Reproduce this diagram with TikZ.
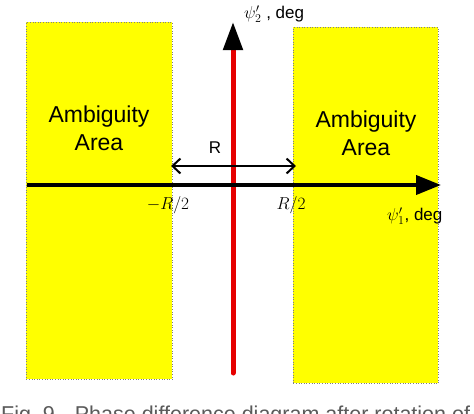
\documentclass[tikz,border=0pt]{standalone}
\usepackage{fontspec}
\setmainfont{Liberation Sans}
\usetikzlibrary{arrows.meta, positioning}
\definecolor{ambyellow}{RGB}{255, 255, 0}
\definecolor{axisred}{RGB}{230, 0, 0}
\definecolor{captiongray}{RGB}{90, 90, 90}
\tikzstyle{area} = [rectangle, draw=gray, dotted, fill=ambyellow, line width=0.6pt, inner sep=0pt, anchor=north west]
\tikzstyle{areatext} = [align=center, font=\fontsize{23}{28}\selectfont]
\tikzstyle{axis} = [-{Triangle[length=25pt, width=19pt]}, line width=4pt]
\tikzstyle{lbl} = [font=\fontsize{17}{20}\selectfont, inner sep=1pt]
\tikzstyle{mlbl} = [font=\fontsize{19}{22}\selectfont, inner sep=1pt]

\begin{document}
\begin{tikzpicture}[x=1pt, y=-1pt]
    \useasboundingbox (0, 0) rectangle (474, 413);

    % Ambiguity areas
    \node[area, minimum width=146pt, minimum height=357pt] (leftarea) at (26, 22) {};
    \node[area, minimum width=145pt, minimum height=356pt] (rightarea) at (293, 27) {};
    \node[areatext] (lefttext) at (99, 128) {Ambiguity\\Area};
    \node[areatext] (righttext) at (366, 133) {Ambiguity\\Area};

    % Vertical axis
    \coordinate (vbot) at (233, 373);
    \coordinate (vtop) at (233, 22);
    \draw[-{Triangle[length=28pt, width=19pt, color=black]}, axisred, line width=5pt, line cap=round] (vbot) -- (vtop);
    \node[lbl, anchor=west] (psitwo) at (243, 14) {$\psi'_2$ , deg};

    % Horizontal axis
    \coordinate (hleft) at (27, 185);
    \coordinate (hright) at (441, 185);
    \draw[axis] (hleft) -- (hright);
    \node[lbl, anchor=west] (psione) at (386, 216) {$\psi'_1$, deg};

    % Range R
    \coordinate (rleft) at (171, 166);
    \coordinate (rright) at (296, 166);
    \draw[{Straight Barb[length=8pt, width=15pt]}-{Straight Barb[length=8pt, width=15pt]}, line width=2pt] (rleft) -- (rright);
    \node[lbl] (rlabel) at (215, 148) {R};
    \node[mlbl] (minushalf) at (168, 205) {$-R/2$};
    \node[mlbl] (plushalf) at (291, 205) {$R/2$};

    % Caption (cut off at the bottom)
    \node[anchor=base west, text=captiongray, font=\fontsize{21.5}{26}\selectfont, inner sep=0pt] (caption) at (1, 421) {Fig.~9.~ Phase difference diagram after rotation of};
\end{tikzpicture}
\end{document}
